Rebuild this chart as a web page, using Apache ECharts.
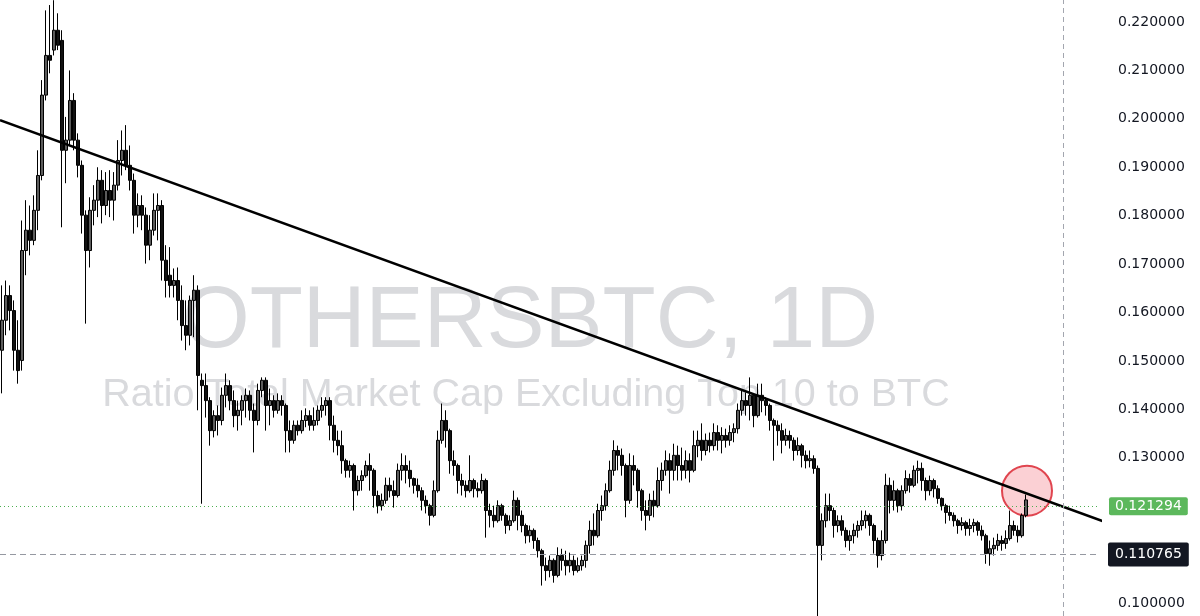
<!DOCTYPE html>
<html>
<head>
<meta charset="utf-8">
<title>OTHERSBTC, 1D</title>
<script src="https://cdn.jsdelivr.net/npm/echarts/dist/echarts.min.js"></script>
<style>
  html, body { margin: 0; padding: 0; background: #fff; }
  #chart { width: 1200px; height: 616px; }
</style>
</head>
<body>
<div id="chart"></div>
<script>
// daily candles (OTHERSBTC)
var opens = [
  0.1522, 0.1584, 0.1635, 0.1604, 0.1522, 0.1501, 0.1728, 0.1770, 0.1749, 0.1811,
  0.1883, 0.2049, 0.2131, 0.2142, 0.2183, 0.2162, 0.1935, 0.1956, 0.2038, 0.1956,
  0.1904, 0.1801, 0.1728, 0.1811, 0.1832, 0.1873, 0.1821, 0.1852, 0.1832, 0.1863,
  0.1914, 0.1935, 0.1904, 0.1873, 0.1801, 0.1821, 0.1801, 0.1739, 0.1770, 0.1811,
  0.1821, 0.1708, 0.1677, 0.1656, 0.1666, 0.1625, 0.1573, 0.1553, 0.1625, 0.1646,
  0.1460, 0.1449, 0.1418, 0.1356, 0.1387, 0.1377, 0.1429, 0.1449, 0.1418, 0.1387,
  0.1398, 0.1418, 0.1429, 0.1398, 0.1377, 0.1439, 0.1460, 0.1408, 0.1418, 0.1398,
  0.1418, 0.1408, 0.1356, 0.1336, 0.1367, 0.1356, 0.1377, 0.1387, 0.1367, 0.1377,
  0.1398, 0.1408, 0.1418, 0.1367, 0.1336, 0.1325, 0.1294, 0.1274, 0.1284, 0.1232,
  0.1253, 0.1263, 0.1284, 0.1274, 0.1222, 0.1201, 0.1212, 0.1243, 0.1232, 0.1222,
  0.1274, 0.1284, 0.1274, 0.1257, 0.1243, 0.1232, 0.1212, 0.1201, 0.1181, 0.1232,
  0.1336, 0.1377, 0.1356, 0.1294, 0.1284, 0.1253, 0.1243, 0.1232, 0.1253, 0.1236,
  0.1232, 0.1253, 0.1191, 0.1181, 0.1170, 0.1201, 0.1181, 0.1160, 0.1170, 0.1212,
  0.1181, 0.1160, 0.1139, 0.1150, 0.1129, 0.1108, 0.1077, 0.1067, 0.1088, 0.1057,
  0.1098, 0.1088, 0.1077, 0.1088, 0.1067, 0.1077, 0.1088, 0.1119, 0.1150, 0.1139,
  0.1191, 0.1201, 0.1232, 0.1274, 0.1315, 0.1305, 0.1284, 0.1212, 0.1284, 0.1274,
  0.1232, 0.1191, 0.1181, 0.1212, 0.1201, 0.1253, 0.1274, 0.1294, 0.1274, 0.1305,
  0.1284, 0.1274, 0.1294, 0.1274, 0.1325, 0.1336, 0.1315, 0.1336, 0.1325, 0.1352,
  0.1336, 0.1346, 0.1336, 0.1352, 0.1360, 0.1398, 0.1418, 0.1408, 0.1429, 0.1387,
  0.1429, 0.1418, 0.1408, 0.1377, 0.1367, 0.1356, 0.1336, 0.1346, 0.1336, 0.1315,
  0.1325, 0.1305, 0.1294, 0.1298, 0.1278, 0.1119, 0.1170, 0.1201, 0.1191, 0.1160,
  0.1170, 0.1150, 0.1129, 0.1139, 0.1150, 0.1160, 0.1170, 0.1181, 0.1160, 0.1129,
  0.1098, 0.1129, 0.1243, 0.1212, 0.1232, 0.1201, 0.1232, 0.1257, 0.1243, 0.1274,
  0.1278, 0.1253, 0.1232, 0.1253, 0.1236, 0.1216, 0.1201, 0.1187, 0.1181, 0.1170,
  0.1160, 0.1166, 0.1154, 0.1160, 0.1166, 0.1150, 0.1139, 0.1102, 0.1112, 0.1119,
  0.1129, 0.1123, 0.1133, 0.1160, 0.1150, 0.1139, 0.1181
];
var closes = [
  0.1584, 0.1635, 0.1604, 0.1522, 0.1480, 0.1728, 0.1770, 0.1749, 0.1811, 0.1883,
  0.2049, 0.2131, 0.2121, 0.2183, 0.2152, 0.1935, 0.1956, 0.2038, 0.1956, 0.1904,
  0.1801, 0.1728, 0.1811, 0.1832, 0.1873, 0.1821, 0.1852, 0.1832, 0.1863, 0.1914,
  0.1935, 0.1904, 0.1873, 0.1801, 0.1821, 0.1801, 0.1739, 0.1770, 0.1811, 0.1821,
  0.1708, 0.1666, 0.1656, 0.1666, 0.1625, 0.1573, 0.1553, 0.1625, 0.1646, 0.1470,
  0.1449, 0.1418, 0.1356, 0.1387, 0.1377, 0.1429, 0.1449, 0.1418, 0.1387, 0.1398,
  0.1418, 0.1429, 0.1398, 0.1377, 0.1439, 0.1460, 0.1408, 0.1418, 0.1398, 0.1418,
  0.1408, 0.1356, 0.1336, 0.1367, 0.1356, 0.1377, 0.1387, 0.1367, 0.1377, 0.1398,
  0.1408, 0.1418, 0.1367, 0.1336, 0.1325, 0.1294, 0.1274, 0.1284, 0.1232, 0.1253,
  0.1263, 0.1284, 0.1274, 0.1222, 0.1201, 0.1212, 0.1243, 0.1232, 0.1222, 0.1274,
  0.1284, 0.1274, 0.1257, 0.1243, 0.1232, 0.1212, 0.1201, 0.1181, 0.1232, 0.1336,
  0.1377, 0.1356, 0.1294, 0.1284, 0.1253, 0.1243, 0.1232, 0.1253, 0.1236, 0.1232,
  0.1253, 0.1191, 0.1181, 0.1170, 0.1201, 0.1181, 0.1160, 0.1170, 0.1212, 0.1181,
  0.1160, 0.1139, 0.1150, 0.1129, 0.1108, 0.1077, 0.1067, 0.1088, 0.1057, 0.1098,
  0.1088, 0.1077, 0.1088, 0.1067, 0.1077, 0.1088, 0.1119, 0.1150, 0.1139, 0.1191,
  0.1201, 0.1232, 0.1274, 0.1315, 0.1305, 0.1284, 0.1212, 0.1284, 0.1274, 0.1232,
  0.1191, 0.1181, 0.1212, 0.1201, 0.1253, 0.1274, 0.1294, 0.1274, 0.1305, 0.1284,
  0.1274, 0.1294, 0.1274, 0.1325, 0.1336, 0.1315, 0.1336, 0.1325, 0.1352, 0.1336,
  0.1346, 0.1336, 0.1352, 0.1360, 0.1398, 0.1418, 0.1408, 0.1429, 0.1387, 0.1429,
  0.1418, 0.1408, 0.1377, 0.1367, 0.1356, 0.1336, 0.1346, 0.1336, 0.1315, 0.1325,
  0.1305, 0.1294, 0.1298, 0.1278, 0.1119, 0.1170, 0.1201, 0.1191, 0.1160, 0.1170,
  0.1150, 0.1129, 0.1139, 0.1150, 0.1160, 0.1170, 0.1181, 0.1160, 0.1129, 0.1098,
  0.1129, 0.1243, 0.1212, 0.1232, 0.1201, 0.1232, 0.1257, 0.1243, 0.1274, 0.1278,
  0.1253, 0.1232, 0.1253, 0.1236, 0.1216, 0.1201, 0.1187, 0.1181, 0.1170, 0.1160,
  0.1166, 0.1154, 0.1160, 0.1166, 0.1150, 0.1139, 0.1102, 0.1112, 0.1119, 0.1129,
  0.1123, 0.1133, 0.1160, 0.1150, 0.1139, 0.1181, 0.121294
];
var lows = [
  0.1433, 0.1553, 0.1563, 0.1480, 0.1453, 0.1480, 0.1677, 0.1718, 0.1739, 0.1770,
  0.1873, 0.2038, 0.2094, 0.2131, 0.2142, 0.1776, 0.1867, 0.1945, 0.1935, 0.1879,
  0.1763, 0.1577, 0.1693, 0.1780, 0.1797, 0.1784, 0.1801, 0.1797, 0.1790, 0.1852,
  0.1883, 0.1894, 0.1852, 0.1763, 0.1776, 0.1770, 0.1701, 0.1708, 0.1759, 0.1749,
  0.1666, 0.1631, 0.1631, 0.1631, 0.1584, 0.1542, 0.1522, 0.1532, 0.1549, 0.1398,
  0.1205, 0.1383, 0.1325, 0.1342, 0.1346, 0.1367, 0.1404, 0.1398, 0.1363, 0.1356,
  0.1367, 0.1383, 0.1377, 0.1311, 0.1367, 0.1425, 0.1356, 0.1367, 0.1383, 0.1391,
  0.1387, 0.1311, 0.1311, 0.1329, 0.1346, 0.1350, 0.1363, 0.1356, 0.1356, 0.1367,
  0.1383, 0.1387, 0.1336, 0.1311, 0.1305, 0.1267, 0.1259, 0.1259, 0.1191, 0.1222,
  0.1232, 0.1259, 0.1232, 0.1197, 0.1185, 0.1191, 0.1205, 0.1218, 0.1197, 0.1218,
  0.1253, 0.1247, 0.1239, 0.1226, 0.1218, 0.1191, 0.1185, 0.1160, 0.1177, 0.1228,
  0.1329, 0.1321, 0.1267, 0.1263, 0.1226, 0.1222, 0.1218, 0.1228, 0.1218, 0.1218,
  0.1226, 0.1135, 0.1156, 0.1156, 0.1166, 0.1170, 0.1143, 0.1150, 0.1166, 0.1150,
  0.1146, 0.1123, 0.1125, 0.1112, 0.1094, 0.1036, 0.1046, 0.1053, 0.1042, 0.1053,
  0.1067, 0.1057, 0.1063, 0.1057, 0.1063, 0.1067, 0.1073, 0.1102, 0.1119, 0.1135,
  0.1170, 0.1191, 0.1228, 0.1263, 0.1274, 0.1263, 0.1177, 0.1205, 0.1243, 0.1197,
  0.1170, 0.1150, 0.1170, 0.1177, 0.1197, 0.1232, 0.1263, 0.1226, 0.1253, 0.1253,
  0.1253, 0.1257, 0.1249, 0.1270, 0.1301, 0.1294, 0.1305, 0.1311, 0.1315, 0.1315,
  0.1309, 0.1321, 0.1325, 0.1332, 0.1350, 0.1387, 0.1387, 0.1377, 0.1363, 0.1383,
  0.1394, 0.1387, 0.1356, 0.1294, 0.1325, 0.1309, 0.1325, 0.1319, 0.1294, 0.1305,
  0.1280, 0.1278, 0.1280, 0.1267, 0.0950, 0.1088, 0.1156, 0.1170, 0.1135, 0.1146,
  0.1139, 0.1115, 0.1108, 0.1123, 0.1135, 0.1150, 0.1154, 0.1139, 0.1102, 0.1073,
  0.1088, 0.1123, 0.1185, 0.1191, 0.1187, 0.1191, 0.1226, 0.1228, 0.1239, 0.1247,
  0.1232, 0.1212, 0.1222, 0.1218, 0.1205, 0.1191, 0.1164, 0.1170, 0.1158, 0.1143,
  0.1150, 0.1139, 0.1139, 0.1146, 0.1139, 0.1129, 0.1081, 0.1077, 0.1098, 0.1108,
  0.1108, 0.1112, 0.1129, 0.1139, 0.1125, 0.1135, 0.1177
];
var highs = [
  0.1656, 0.1666, 0.1656, 0.1625, 0.1584, 0.1790, 0.1832, 0.1821, 0.1842, 0.1935,
  0.2080, 0.2224, 0.2235, 0.2245, 0.2218, 0.2183, 0.2004, 0.2100, 0.2053, 0.1970,
  0.1914, 0.1811, 0.1838, 0.1863, 0.1900, 0.1894, 0.1890, 0.1894, 0.1890, 0.1956,
  0.1976, 0.1987, 0.1945, 0.1887, 0.1846, 0.1842, 0.1817, 0.1801, 0.1846, 0.1846,
  0.1832, 0.1739, 0.1735, 0.1691, 0.1693, 0.1656, 0.1625, 0.1635, 0.1677, 0.1656,
  0.1474, 0.1474, 0.1425, 0.1398, 0.1408, 0.1445, 0.1474, 0.1460, 0.1439, 0.1418,
  0.1429, 0.1443, 0.1439, 0.1412, 0.1453, 0.1466, 0.1466, 0.1443, 0.1429, 0.1433,
  0.1429, 0.1412, 0.1377, 0.1377, 0.1377, 0.1398, 0.1402, 0.1398, 0.1404, 0.1408,
  0.1425, 0.1425, 0.1425, 0.1387, 0.1356, 0.1356, 0.1298, 0.1294, 0.1288, 0.1263,
  0.1274, 0.1294, 0.1309, 0.1278, 0.1232, 0.1226, 0.1259, 0.1259, 0.1253, 0.1288,
  0.1309, 0.1305, 0.1294, 0.1259, 0.1257, 0.1239, 0.1222, 0.1205, 0.1253, 0.1356,
  0.1412, 0.1398, 0.1360, 0.1315, 0.1288, 0.1267, 0.1253, 0.1305, 0.1257, 0.1249,
  0.1267, 0.1257, 0.1205, 0.1201, 0.1212, 0.1205, 0.1185, 0.1181, 0.1232, 0.1218,
  0.1191, 0.1164, 0.1160, 0.1154, 0.1135, 0.1112, 0.1094, 0.1098, 0.1092, 0.1115,
  0.1112, 0.1108, 0.1104, 0.1098, 0.1094, 0.1098, 0.1129, 0.1170, 0.1185, 0.1205,
  0.1222, 0.1247, 0.1294, 0.1336, 0.1325, 0.1319, 0.1288, 0.1309, 0.1305, 0.1278,
  0.1236, 0.1212, 0.1226, 0.1232, 0.1280, 0.1290, 0.1315, 0.1309, 0.1329, 0.1325,
  0.1321, 0.1315, 0.1309, 0.1356, 0.1356, 0.1371, 0.1350, 0.1352, 0.1371, 0.1367,
  0.1363, 0.1360, 0.1367, 0.1371, 0.1412, 0.1439, 0.1435, 0.1466, 0.1433, 0.1453,
  0.1453, 0.1425, 0.1412, 0.1381, 0.1377, 0.1371, 0.1360, 0.1356, 0.1342, 0.1342,
  0.1329, 0.1315, 0.1315, 0.1305, 0.1284, 0.1185, 0.1226, 0.1226, 0.1197, 0.1181,
  0.1181, 0.1156, 0.1150, 0.1164, 0.1170, 0.1191, 0.1191, 0.1185, 0.1164, 0.1135,
  0.1150, 0.1267, 0.1259, 0.1253, 0.1236, 0.1243, 0.1274, 0.1267, 0.1284, 0.1294,
  0.1290, 0.1259, 0.1263, 0.1257, 0.1243, 0.1218, 0.1205, 0.1201, 0.1187, 0.1174,
  0.1177, 0.1170, 0.1174, 0.1174, 0.1170, 0.1160, 0.1143, 0.1129, 0.1135, 0.1143,
  0.1139, 0.1150, 0.1191, 0.1170, 0.1160, 0.1185, 0.1224
];

// one slot per day, plus empty days to the right of the last candle
var totalDays = 275;
var days = [];
for (var d = 0; d < totalDays; d++) days.push(String(d));

// price scale: visible range and the labelled levels
var priceMin = 0.097314;
var priceMax = 0.224545;
var priceTicks = [0.10, 0.11, 0.12, 0.13, 0.14, 0.15, 0.16, 0.17, 0.18, 0.19, 0.20, 0.21, 0.22];

// price levels
var lastPrice = 0.121294;
var crossPrice = 0.110765;
var crossDay = 265.75;
// trend line drawn on the chart: [day, price]
var trendLine = [[0, 0.1997], [276.75, 0.1166]];
var circleMark = [[256.75, 0.1232]];

var candles = [];
for (var i = 0; i < opens.length; i++) {
  candles.push([opens[i], closes[i], lows[i], highs[i]]);
}

var chart = echarts.init(document.getElementById("chart"));
chart.setOption({
  animation: false,
  backgroundColor: "#ffffff",
  grid: { left: 0, right: 100, top: 0, bottom: 0 },
  graphic: [
    {
      type: "text",
      z: -10,
      silent: true,
      x: 530,
      y: 323,
      style: {
        text: "OTHERSBTC, 1D",
        font: '87px "Liberation Sans", Arial, sans-serif',
        fill: "#d9dadd",
        align: "center",
        verticalAlign: "middle"
      }
    },
    {
      type: "text",
      z: -10,
      silent: true,
      x: 526,
      y: 395,
      style: {
        text: "Ratio Total Market Cap Excluding Top 10 to BTC",
        font: '39.5px "Liberation Sans", Arial, sans-serif',
        fill: "#d9dadd",
        align: "center",
        verticalAlign: "middle"
      }
    }
  ],
  xAxis: [
    {
      type: "category",
      data: days,
      show: false,
      boundaryGap: true
    },
    {
      type: "value",
      min: 0,
      max: totalDays,
      show: false
    }
  ],
  yAxis: {
    type: "value",
    position: "right",
    min: priceMin,
    max: priceMax,
    axisLine: { show: false },
    axisTick: { show: false },
    splitLine: { show: false },
    axisLabel: {
      customValues: priceTicks,
      margin: 18,
      color: "#131722",
      fontSize: 14,
      fontFamily: "DejaVu Sans",
      formatter: function (v) { return v.toFixed(6); }
    }
  },
  series: [
    {
      type: "scatter",
      xAxisIndex: 1,
      z: 1,
      clip: false,
      symbolSize: 50,
      data: circleMark,
      itemStyle: {
        color: "rgba(240, 60, 75, 0.24)",
        borderColor: "#e0454f",
        borderWidth: 2,
        opacity: 1
      }
    },
    {
      type: "candlestick",
      xAxisIndex: 0,
      z: 2,
      clip: false,
      barWidth: 2.6,
      data: candles,
      itemStyle: {
        color: "#5c5c5c",
        color0: "#111111",
        borderColor: "#000000",
        borderColor0: "#000000",
        borderWidth: 1
      }
    },
    {
      type: "line",
      xAxisIndex: 1,
      z: 3,
      clip: false,
      symbol: "none",
      data: trendLine,
      lineStyle: { color: "#000000", width: 2.5 },
      markLine: {
        silent: true,
        symbol: ["none", "none"],
        data: [
          {
            xAxis: crossDay,
            label: { show: false },
            lineStyle: { color: "#a3a6af", type: [5, 4], width: 1 }
          },
          {
            yAxis: lastPrice,
            lineStyle: { color: "#4caf50", type: [1, 3], width: 1 },
            label: {
              show: true,
              position: "end",
              distance: 9,
              formatter: lastPrice.toFixed(6),
              color: "#ffffff",
              fontSize: 14,
              fontFamily: "DejaVu Sans",
              backgroundColor: "#5cb85c",
              padding: [2, 6, 2, 6],
              borderRadius: 2
            }
          },
          {
            yAxis: crossPrice,
            lineStyle: { color: "#9598a1", type: [6, 4], width: 1 },
            label: {
              show: true,
              position: "end",
              distance: 8,
              formatter: crossPrice.toFixed(6),
              color: "#ffffff",
              fontSize: 14,
              fontFamily: "DejaVu Sans",
              backgroundColor: "#131722",
              padding: [5, 7, 5, 7],
              borderRadius: 2
            }
          }
        ]
      }
    }
  ]
});
</script>
</body>
</html>
